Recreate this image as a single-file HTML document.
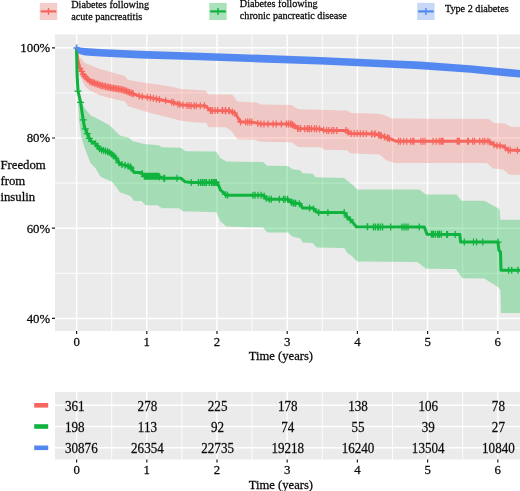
<!DOCTYPE html>
<html lang="en"><head><meta charset="utf-8"><title>Freedom from insulin</title>
<style>html,body{margin:0;padding:0;background:#fff}body{width:520px;height:491px;overflow:hidden}svg{display:block}</style>
</head><body>
<svg width="520" height="491" viewBox="0 0 520 491">
<rect width="520" height="491" fill="#fff"/>
<rect x="55" y="34.5" width="465" height="296.5" fill="#EBEBEB"/>
<path d="M55,92.9H520M55,183.1H520M55,273.3H520M111.7,34.5V331M181.9,34.5V331M252.1,34.5V331M322.3,34.5V331M392.5,34.5V331M462.7,34.5V331" stroke="#fff" stroke-width="0.95" fill="none" opacity="0.95"/>
<path d="M55,47.8H520M55,138.0H520M55,228.2H520M55,318.4H520M76.6,34.5V331M146.8,34.5V331M217.0,34.5V331M287.2,34.5V331M357.4,34.5V331M427.6,34.5V331M497.8,34.5V331" stroke="#fff" stroke-width="1.45" fill="none"/>
<path d="M76.6,48.0 L79.0,56.0 L85.0,63.0 L100.0,69.0 L125.0,76.0 L128.0,80.0 L150.4,83.4 L170.7,86.5 L180.9,88.9 L205.4,90.5 L208.4,94.2 L232.4,94.8 L237.5,101.6 L256.8,102.6 L260.9,104.6 L291.5,105.0 L298.1,109.3 L347.0,110.5 L351.1,113.0 L377.6,113.8 L382.2,114.5 L392.4,118.5 L488.9,118.9 L494.0,123.0 L505.2,123.6 L510.3,126.7 L520.0,127.1 L520.0,174.9 L509.2,174.5 L503.1,169.4 L493.0,168.4 L486.8,162.9 L394.4,162.9 L386.3,160.3 L379.6,154.5 L350.1,153.3 L347.0,150.3 L324.6,149.7 L320.5,147.2 L298.1,146.9 L291.5,142.3 L260.9,141.7 L254.8,139.7 L237.5,139.2 L231.4,131.1 L225.7,127.2 L208.4,127.2 L206.4,123.1 L191.1,122.1 L180.9,120.7 L170.7,118.0 L160.5,115.4 L150.4,113.0 L140.2,109.9 L128.0,106.0 L125.0,101.5 L110.0,98.0 L100.0,95.4 L90.0,90.5 L85.0,86.0 L80.0,76.0 L78.0,66.0 L76.6,48.0Z" fill="#F8766D" fill-opacity="0.3"/>
<path d="M76.6,48.0 L78.0,70.0 L79.5,90.0 L81.2,102.0 L85.3,109.0 L90.4,115.3 L96.5,118.3 L102.6,121.4 L109.7,125.5 L114.8,130.5 L119.9,135.6 L129.0,137.7 L132.2,141.0 L144.4,144.0 L158.7,145.3 L161.8,147.3 L181.1,147.7 L185.2,151.2 L216.3,151.5 L220.4,158.3 L226.5,161.4 L263.1,162.0 L267.2,165.7 L288.1,166.1 L292.2,169.2 L300.4,170.2 L302.4,173.2 L312.6,173.8 L315.6,177.3 L344.2,177.9 L348.2,181.4 L353.3,185.5 L357.0,189.6 L419.2,189.6 L426.0,194.5 L456.7,194.5 L461.3,200.8 L484.2,200.8 L499.5,209.0 L500.4,219.8 L520.0,219.8 L520.0,313.0 L501.0,313.0 L500.4,290.0 L498.0,287.0 L484.2,278.5 L462.4,278.3 L455.8,268.9 L426.2,268.7 L417.2,261.9 L357.1,261.5 L352.3,256.6 L347.2,252.7 L344.2,248.0 L316.7,247.6 L312.6,243.1 L302.4,242.5 L300.4,238.4 L292.2,236.6 L288.1,232.5 L267.2,232.5 L263.1,227.6 L226.5,226.6 L220.4,221.5 L216.3,212.3 L183.1,211.3 L179.0,208.2 L161.8,208.2 L157.7,205.2 L145.5,205.2 L141.4,201.0 L134.3,201.0 L130.2,196.0 L119.9,192.3 L115.8,186.6 L111.8,181.5 L106.7,179.4 L100.5,176.4 L95.5,168.2 L90.4,163.1 L87.3,155.0 L84.3,146.8 L81.2,136.7 L79.2,120.4 L77.3,90.0 L76.5,48.0Z" fill="#00BA38" fill-opacity="0.3"/>
<path d="M76.6,48.0 L77.4,58.0 L79.6,67.5 L83.8,75.4 L90.0,81.5 L100.8,85.4 L110.8,87.7 L123.8,90.0 L130.0,92.6 L140.2,96.3 L150.4,97.7 L160.5,99.7 L170.7,101.8 L180.9,104.8 L191.1,105.8 L205.4,105.8 L210.4,110.5 L230.4,110.7 L235.5,113.8 L240.5,121.9 L250.7,121.9 L260.9,124.0 L291.5,124.0 L298.1,128.6 L320.5,128.9 L324.6,130.5 L347.0,130.5 L349.0,133.4 L375.5,134.0 L380.2,135.4 L390.4,138.9 L396.5,141.3 L488.9,141.3 L495.0,145.4 L503.1,146.0 L508.2,150.1 L520.0,150.5" stroke="#F7665E" stroke-width="3" fill="none" stroke-linejoin="round"/>
<path d="M80.0,64.8v7M76.5,68.3h7M81.6,67.8v7M78.1,71.3h7M83.2,70.8v7M79.7,74.3h7M84.8,72.9v7M81.3,76.4h7M86.4,74.5v7M82.9,78.0h7M88.0,76.0v7M84.5,79.5h7M89.6,77.6v7M86.1,81.1h7M91.2,78.4v7M87.7,81.9h7M92.8,79.0v7M89.3,82.5h7M94.4,79.6v7M90.9,83.1h7M96.0,80.2v7M92.5,83.7h7M97.6,80.7v7M94.1,84.2h7M99.2,81.3v7M95.7,84.8h7M100.8,81.9v7M97.3,85.4h7M102.4,82.3v7M98.9,85.8h7M104.0,82.6v7M100.5,86.1h7M105.6,83.0v7M102.1,86.5h7M107.2,83.4v7M103.7,86.9h7M108.8,83.7v7M105.3,87.2h7M110.4,84.1v7M106.9,87.6h7M112.0,84.4v7M108.5,87.9h7M113.6,84.7v7M110.1,88.2h7M115.2,85.0v7M111.7,88.5h7M116.8,85.3v7M113.3,88.8h7M118.4,85.5v7M114.9,89.0h7M120.0,85.8v7M116.5,89.3h7M121.6,86.1v7M118.1,89.6h7M123.2,86.4v7M119.7,89.9h7M124.8,86.9v7M121.3,90.4h7M126.4,87.6v7M122.9,91.1h7M128.0,88.3v7M124.5,91.8h7M129.6,88.9v7M126.1,92.4h7M131.2,89.5v7M127.7,93.0h7M132.8,90.1v7M129.3,93.6h7M133.1,90.2v7M129.6,93.7h7M139.2,92.4v7M135.7,95.9h7M142.2,93.1v7M138.7,96.6h7M147.3,93.8v7M143.8,97.3h7M150.4,94.2v7M146.9,97.7h7M153.4,94.8v7M149.9,98.3h7M156.5,95.4v7M153.0,98.9h7M159.5,96.0v7M156.0,99.5h7M165.6,97.3v7M162.1,100.8h7M171.8,98.6v7M168.3,102.1h7M173.8,99.2v7M170.3,102.7h7M177.9,100.4v7M174.4,103.9h7M179.9,101.0v7M176.4,104.5h7M183.0,101.5v7M179.5,105.0h7M187.0,101.9v7M183.5,105.4h7M189.1,102.1v7M185.6,105.6h7M191.1,102.3v7M187.6,105.8h7M194.2,102.3v7M190.7,105.8h7M196.2,102.3v7M192.7,105.8h7M200.3,102.3v7M196.8,105.8h7M204.3,102.3v7M200.8,105.8h7M210.4,107.0v7M206.9,110.5h7M212.5,107.0v7M209.0,110.5h7M217.6,107.1v7M214.1,110.6h7M222.7,107.1v7M219.2,110.6h7M225.7,107.2v7M222.2,110.7h7M228.8,107.2v7M225.3,110.7h7M212.0,107.0v7M208.5,110.5h7M215.1,107.0v7M211.6,110.5h7M222.2,107.1v7M218.7,110.6h7M225.3,107.1v7M221.8,110.6h7M229.3,107.2v7M225.8,110.7h7M232.4,108.4v7M228.9,111.9h7M234.4,109.7v7M230.9,113.2h7M240.5,118.4v7M237.0,121.9h7M245.6,118.4v7M242.1,121.9h7M247.7,118.4v7M244.2,121.9h7M249.7,118.4v7M246.2,121.9h7M251.8,118.6v7M248.3,122.1h7M257.9,119.9v7M254.4,123.4h7M260.9,120.5v7M257.4,124.0h7M264.0,120.5v7M260.5,124.0h7M268.0,120.5v7M264.5,124.0h7M273.1,120.5v7M269.6,124.0h7M276.2,120.5v7M272.7,124.0h7M281.3,120.5v7M277.8,124.0h7M286.4,120.5v7M282.9,124.0h7M288.4,120.5v7M284.9,124.0h7M290.4,120.5v7M286.9,124.0h7M292.5,121.2v7M289.0,124.7h7M297.6,124.7v7M294.1,128.2h7M300.6,125.1v7M297.1,128.6h7M304.7,125.2v7M301.2,128.7h7M307.8,125.2v7M304.3,128.7h7M291.0,120.5v7M287.5,124.0h7M294.1,122.3v7M290.6,125.8h7M298.1,125.1v7M294.6,128.6h7M300.2,125.1v7M296.7,128.6h7M307.3,125.2v7M303.8,128.7h7M309.3,125.3v7M305.8,128.8h7M311.4,125.3v7M307.9,128.8h7M314.4,125.3v7M310.9,128.8h7M316.5,125.3v7M313.0,128.8h7M319.5,125.4v7M316.0,128.9h7M323.6,126.6v7M320.1,130.1h7M326.7,127.0v7M323.2,130.5h7M328.7,127.0v7M325.2,130.5h7M331.8,127.0v7M328.3,130.5h7M333.8,127.0v7M330.3,130.5h7M336.8,127.0v7M333.3,130.5h7M346.0,127.0v7M342.5,130.5h7M348.0,128.5v7M344.5,132.0h7M351.1,129.9v7M347.6,133.4h7M354.2,130.0v7M350.7,133.5h7M357.2,130.1v7M353.7,133.6h7M360.3,130.2v7M356.8,133.7h7M363.3,130.2v7M359.8,133.7h7M366.4,130.3v7M362.9,133.8h7M371.5,130.4v7M368.0,133.9h7M374.5,130.5v7M371.0,134.0h7M378.6,131.4v7M375.1,134.9h7M380.6,132.0v7M377.1,135.5h7M384.7,133.4v7M381.2,136.9h7M387.8,134.5v7M384.3,138.0h7M372.0,130.4v7M368.5,133.9h7M375.1,130.5v7M371.6,134.0h7M379.2,131.6v7M375.7,135.1h7M381.2,132.2v7M377.7,135.7h7M384.3,133.3v7M380.8,136.8h7M387.3,134.3v7M383.8,137.8h7M389.3,135.0v7M385.8,138.5h7M398.5,137.8v7M395.0,141.3h7M400.5,137.8v7M397.0,141.3h7M403.6,137.8v7M400.1,141.3h7M406.7,137.8v7M403.2,141.3h7M410.7,137.8v7M407.2,141.3h7M412.8,137.8v7M409.3,141.3h7M413.8,137.8v7M410.3,141.3h7M420.9,137.8v7M417.4,141.3h7M423.0,137.8v7M419.5,141.3h7M425.0,137.8v7M421.5,141.3h7M433.1,137.8v7M429.6,141.3h7M436.2,137.8v7M432.7,141.3h7M439.2,137.8v7M435.7,141.3h7M442.3,137.8v7M438.8,141.3h7M457.6,137.8v7M454.1,141.3h7M458.6,137.8v7M455.1,141.3h7M467.8,137.8v7M464.3,141.3h7M441.0,137.8v7M437.5,141.3h7M443.1,137.8v7M439.6,141.3h7M457.3,137.8v7M453.8,141.3h7M459.3,137.8v7M455.8,141.3h7M468.5,137.8v7M465.0,141.3h7M472.6,137.8v7M469.1,141.3h7M474.6,137.8v7M471.1,141.3h7M479.7,137.8v7M476.2,141.3h7M482.8,137.8v7M479.3,141.3h7M484.8,137.8v7M481.3,141.3h7M487.9,137.8v7M484.4,141.3h7M489.9,138.5v7M486.4,142.0h7M494.0,141.2v7M490.5,144.7h7M497.0,142.1v7M493.5,145.6h7M500.1,142.3v7M496.6,145.8h7M505.2,144.2v7M501.7,147.7h7M508.2,146.6v7M504.7,150.1h7M510.3,146.7v7M506.8,150.2h7M517.4,146.9v7M513.9,150.4h7" stroke="#F7665E" stroke-width="1.25" fill="none"/>
<path d="M76.5,48.0 L77.1,75.0 L78.0,91.0 L80.6,102.0 L82.6,116.0 L84.3,126.5 L87.3,133.6 L90.4,140.7 L95.5,143.8 L100.5,149.9 L105.6,150.9 L110.7,153.0 L115.8,158.0 L119.9,164.2 L125.0,165.2 L130.2,166.8 L134.3,172.5 L141.4,172.6 L144.4,176.3 L158.7,176.3 L161.8,178.3 L181.1,178.3 L185.2,181.8 L191.3,182.4 L217.3,182.4 L220.4,189.9 L226.5,195.3 L263.1,195.3 L267.2,199.3 L288.1,199.3 L292.2,202.8 L300.4,203.8 L302.4,207.9 L312.5,207.9 L317.7,212.5 L344.2,212.5 L347.2,217.0 L351.3,220.6 L356.3,226.8 L424.3,227.0 L427.0,234.3 L459.8,234.4 L460.6,242.1 L498.0,242.1 L498.9,250.3 L500.5,252.0 L501.0,270.2 L520.0,270.2" stroke="#0FB33D" stroke-width="3" fill="none" stroke-linejoin="round"/>
<path d="M83.2,116.4v7M79.7,119.9h7M85.3,125.3v7M81.8,128.8h7M87.3,130.1v7M83.8,133.6h7M89.3,134.8v7M85.8,138.3h7M91.4,137.8v7M87.9,141.3h7M95.5,140.3v7M92.0,143.8h7M97.5,142.7v7M94.0,146.2h7M99.5,145.2v7M96.0,148.7h7M101.6,146.6v7M98.1,150.1h7M103.6,147.0v7M100.1,150.5h7M105.6,147.4v7M102.1,150.9h7M107.7,148.3v7M104.2,151.8h7M109.7,149.1v7M106.2,152.6h7M111.8,150.5v7M108.3,154.0h7M113.8,152.5v7M110.3,156.0h7M115.8,154.5v7M112.3,158.0h7M118.9,159.2v7M115.4,162.7h7M121.9,161.1v7M118.4,164.6h7M125.0,161.7v7M121.5,165.2h7M128.0,162.6v7M124.5,166.1h7M131.1,164.6v7M127.6,168.1h7M142.3,170.2v7M138.8,173.7h7M145.4,172.8v7M141.9,176.3h7M147.4,172.8v7M143.9,176.3h7M149.4,172.8v7M145.9,176.3h7M151.5,172.8v7M148.0,176.3h7M153.5,172.8v7M150.0,176.3h7M155.5,172.8v7M152.0,176.3h7M157.6,172.8v7M154.1,176.3h7M159.6,173.4v7M156.1,176.9h7M164.7,174.8v7M161.2,178.3h7M122.0,161.1v7M118.5,164.6h7M125.1,161.7v7M121.6,165.2h7M128.1,162.7v7M124.6,166.2h7M130.2,163.3v7M126.7,166.8h7M142.4,170.3v7M138.9,173.8h7M144.4,172.8v7M140.9,176.3h7M146.5,172.8v7M143.0,176.3h7M148.5,172.8v7M145.0,176.3h7M150.5,172.8v7M147.0,176.3h7M152.6,172.8v7M149.1,176.3h7M154.6,172.8v7M151.1,176.3h7M156.7,172.8v7M153.2,176.3h7M158.7,172.8v7M155.2,176.3h7M163.8,174.8v7M160.3,178.3h7M177.0,174.8v7M173.5,178.3h7M191.3,178.9v7M187.8,182.4h7M198.4,178.9v7M194.9,182.4h7M200.4,178.9v7M196.9,182.4h7M202.5,178.9v7M199.0,182.4h7M204.5,178.9v7M201.0,182.4h7M206.6,178.9v7M203.1,182.4h7M209.6,178.9v7M206.1,182.4h7M211.6,178.9v7M208.1,182.4h7M213.7,178.9v7M210.2,182.4h7M215.7,178.9v7M212.2,182.4h7M202.0,178.9v7M198.5,182.4h7M204.1,178.9v7M200.6,182.4h7M206.1,178.9v7M202.6,182.4h7M209.2,178.9v7M205.7,182.4h7M212.2,178.9v7M208.7,182.4h7M214.3,178.9v7M210.8,182.4h7M216.3,178.9v7M212.8,182.4h7M225.5,190.9v7M222.0,194.4h7M227.5,191.8v7M224.0,195.3h7M253.0,191.8v7M249.5,195.3h7M255.0,191.8v7M251.5,195.3h7M258.0,191.8v7M254.5,195.3h7M261.1,191.8v7M257.6,195.3h7M264.2,192.8v7M260.7,196.3h7M266.2,194.8v7M262.7,198.3h7M269.2,195.8v7M265.7,199.3h7M271.3,195.8v7M267.8,199.3h7M279.4,195.8v7M275.9,199.3h7M283.5,195.8v7M280.0,199.3h7M287.6,195.8v7M284.1,199.3h7M291.6,198.8v7M288.1,202.3h7M293.7,199.5v7M290.2,203.0h7M295.7,199.7v7M292.2,203.2h7M285.1,195.8v7M281.6,199.3h7M291.2,198.4v7M287.7,201.9h7M293.2,199.4v7M289.7,202.9h7M295.3,199.7v7M291.8,203.2h7M299.3,200.2v7M295.8,203.7h7M309.5,204.4v7M306.0,207.9h7M313.6,205.4v7M310.1,208.9h7M318.7,209.0v7M315.2,212.5h7M327.9,209.0v7M324.4,212.5h7M344.2,209.0v7M340.7,212.5h7M347.2,213.5v7M343.7,217.0h7M350.3,216.2v7M346.8,219.7h7M367.6,223.3v7M364.1,226.8h7M373.7,223.4v7M370.2,226.9h7M377.8,223.4v7M374.3,226.9h7M367.3,223.3v7M363.8,226.8h7M373.4,223.4v7M369.9,226.9h7M375.5,223.4v7M372.0,226.9h7M378.5,223.4v7M375.0,226.9h7M380.5,223.4v7M377.0,226.9h7M382.6,223.4v7M379.1,226.9h7M390.7,223.4v7M387.2,226.9h7M401.9,223.4v7M398.4,226.9h7M404.0,223.4v7M400.5,226.9h7M406.0,223.4v7M402.5,226.9h7M408.0,223.5v7M404.5,227.0h7M419.2,223.5v7M415.7,227.0h7M431.5,230.8v7M428.0,234.3h7M433.5,230.8v7M430.0,234.3h7M435.5,230.8v7M432.0,234.3h7M437.6,230.8v7M434.1,234.3h7M439.6,230.8v7M436.1,234.3h7M446.7,230.9v7M443.2,234.4h7M432.2,230.8v7M428.7,234.3h7M435.3,230.8v7M431.8,234.3h7M438.3,230.8v7M434.8,234.3h7M441.4,230.8v7M437.9,234.3h7M447.5,230.9v7M444.0,234.4h7M455.2,230.9v7M451.7,234.4h7M464.3,238.6v7M460.8,242.1h7M473.5,238.6v7M470.0,242.1h7M476.6,238.6v7M473.1,242.1h7M482.7,238.6v7M479.2,242.1h7M498.0,238.6v7M494.5,242.1h7M508.7,266.7v7M505.2,270.2h7M511.7,266.7v7M508.2,270.2h7M517.9,266.7v7M514.4,270.2h7M74.5,91.0h7M77.1,102.3h7" stroke="#0FB33D" stroke-width="1.25" fill="none"/>
<path d="M76.5,46.6 L78.0,47.0 L80.0,47.4 L85.0,48.0 L100.0,49.0 L140.0,50.8 L200.0,52.7 L260.0,54.8 L320.0,57.0 L380.0,59.7 L420.0,61.6 L470.0,65.2 L520.0,70.0 L520.0,77.6 L470.0,72.8 L420.0,69.2 L380.0,67.3 L320.0,64.6 L260.0,62.4 L200.0,60.3 L140.0,58.4 L100.0,56.6 L85.0,55.5 L80.0,54.2 L77.5,52.6 L76.5,49.6Z" fill="#5488F1"/>
<path d="M73.3,48h6.5M76.6,44.4v4" stroke="#5488F1" stroke-width="1.7" fill="none"/>
<path d="M55,47.8h-3M55,138.0h-3M55,228.2h-3M55,318.4h-3M76.6,331v3.1M146.8,331v3.1M217.0,331v3.1M287.2,331v3.1M357.4,331v3.1M427.6,331v3.1M497.8,331v3.1" stroke="#1a1a1a" stroke-width="1.2" fill="none"/>
<g font-family="Liberation Serif, serif" fill="#0a0a0a" stroke="#0a0a0a" stroke-width="0.26">
<text x="50.2" y="52.1" font-size="12.8" text-anchor="end">100%</text>
<text x="50.2" y="142.3" font-size="12.8" text-anchor="end">80%</text>
<text x="50.2" y="232.5" font-size="12.8" text-anchor="end">60%</text>
<text x="50.2" y="322.7" font-size="12.8" text-anchor="end">40%</text>
<text x="76.6" y="345.6" font-size="12.8" text-anchor="middle">0</text>
<text x="146.8" y="345.6" font-size="12.8" text-anchor="middle">1</text>
<text x="217.0" y="345.6" font-size="12.8" text-anchor="middle">2</text>
<text x="287.2" y="345.6" font-size="12.8" text-anchor="middle">3</text>
<text x="357.4" y="345.6" font-size="12.8" text-anchor="middle">4</text>
<text x="427.6" y="345.6" font-size="12.8" text-anchor="middle">5</text>
<text x="497.8" y="345.6" font-size="12.8" text-anchor="middle">6</text>
<text x="280.9" y="359.6" font-size="12.6" text-anchor="middle">Time (years)</text>
<text x="0.4" y="169.4" font-size="12.75">Freedom</text>
<text x="0.4" y="185.4" font-size="12.75">from</text>
<text x="0.4" y="201.4" font-size="12.75">insulin</text>
<rect x="39.8" y="2.9" width="17.4" height="17.1" fill="#F2F2F2" stroke="none"/>
<rect x="39.8" y="2.9" width="17.4" height="17.1" fill="#F8766D" fill-opacity="0.3" stroke="none"/>
<path d="M40.7,11.4h15.6" stroke="#F7665E" stroke-width="2.2" fill="none"/>
<path d="M48.5,7.9v7" stroke="#F7665E" stroke-width="1.4" fill="none"/>
<text x="71.2" y="7.9" font-size="10.2">Diabetes following</text>
<text x="71.2" y="19.95" font-size="10.2">acute pancreatitis</text>
<rect x="209.3" y="2.9" width="17.4" height="17.1" fill="#F2F2F2" stroke="none"/>
<rect x="209.3" y="2.9" width="17.4" height="17.1" fill="#00BA38" fill-opacity="0.3" stroke="none"/>
<path d="M210.2,11.4h15.6" stroke="#0FB33D" stroke-width="2.2" fill="none"/>
<path d="M218,7.9v7" stroke="#0FB33D" stroke-width="1.4" fill="none"/>
<text x="239.8" y="6.8" font-size="10.2">Diabetes following</text>
<text x="239.8" y="18.8" font-size="10.2">chronic pancreatic disease</text>
<rect x="417.2" y="2.9" width="17.4" height="17.1" fill="#F2F2F2" stroke="none"/>
<rect x="417.2" y="2.9" width="17.4" height="17.1" fill="#619CFF" fill-opacity="0.3" stroke="none"/>
<path d="M418.1,11.4h15.6" stroke="#5488F1" stroke-width="2.2" fill="none"/>
<path d="M425.9,7.9v7" stroke="#5488F1" stroke-width="1.4" fill="none"/>
<text x="444.9" y="12.4" font-size="10.2">Type 2 diabetes</text>
</g>
<rect x="55" y="392" width="465" height="67.5" fill="#EBEBEB"/>
<path d="M111.7,392V459.5M181.9,392V459.5M252.1,392V459.5M322.3,392V459.5M392.5,392V459.5M462.7,392V459.5" stroke="#fff" stroke-width="0.95" fill="none" opacity="0.95"/>
<path d="M55,405.3H520M55,426.5H520M55,447.8H520M76.6,392V459.5M146.8,392V459.5M217.0,392V459.5M287.2,392V459.5M357.4,392V459.5M427.6,392V459.5M497.8,392V459.5" stroke="#fff" stroke-width="1.45" fill="none"/>
<rect x="34.2" y="403.0" width="14" height="4.6" fill="#F7665E"/>
<rect x="34.2" y="424.2" width="14" height="4.6" fill="#0FB33D"/>
<rect x="34.2" y="445.5" width="14" height="4.6" fill="#5488F1"/>
<path d="M76.6,459.5v3.1M146.8,459.5v3.1M217.0,459.5v3.1M287.2,459.5v3.1M357.4,459.5v3.1M427.6,459.5v3.1M497.8,459.5v3.1" stroke="#1a1a1a" stroke-width="1.2" fill="none"/>
<g font-family="Liberation Serif, serif" fill="#0a0a0a" stroke="#0a0a0a" stroke-width="0.26">
<text transform="translate(65,410.5) scale(0.85,1)" font-size="15.4">361</text>
<text transform="translate(147.4,410.5) scale(0.85,1)" font-size="15.4" text-anchor="middle">278</text>
<text transform="translate(217.6,410.5) scale(0.85,1)" font-size="15.4" text-anchor="middle">225</text>
<text transform="translate(287.8,410.5) scale(0.85,1)" font-size="15.4" text-anchor="middle">178</text>
<text transform="translate(358.0,410.5) scale(0.85,1)" font-size="15.4" text-anchor="middle">138</text>
<text transform="translate(428.2,410.5) scale(0.85,1)" font-size="15.4" text-anchor="middle">106</text>
<text transform="translate(498.4,410.5) scale(0.85,1)" font-size="15.4" text-anchor="middle">78</text>
<text transform="translate(65,431.7) scale(0.85,1)" font-size="15.4">198</text>
<text transform="translate(147.4,431.7) scale(0.85,1)" font-size="15.4" text-anchor="middle">113</text>
<text transform="translate(217.6,431.7) scale(0.85,1)" font-size="15.4" text-anchor="middle">92</text>
<text transform="translate(287.8,431.7) scale(0.85,1)" font-size="15.4" text-anchor="middle">74</text>
<text transform="translate(358.0,431.7) scale(0.85,1)" font-size="15.4" text-anchor="middle">55</text>
<text transform="translate(428.2,431.7) scale(0.85,1)" font-size="15.4" text-anchor="middle">39</text>
<text transform="translate(498.4,431.7) scale(0.85,1)" font-size="15.4" text-anchor="middle">27</text>
<text transform="translate(65,453.0) scale(0.85,1)" font-size="15.4">30876</text>
<text transform="translate(147.4,453.0) scale(0.85,1)" font-size="15.4" text-anchor="middle">26354</text>
<text transform="translate(217.6,453.0) scale(0.85,1)" font-size="15.4" text-anchor="middle">22735</text>
<text transform="translate(287.8,453.0) scale(0.85,1)" font-size="15.4" text-anchor="middle">19218</text>
<text transform="translate(358.0,453.0) scale(0.85,1)" font-size="15.4" text-anchor="middle">16240</text>
<text transform="translate(428.2,453.0) scale(0.85,1)" font-size="15.4" text-anchor="middle">13504</text>
<text transform="translate(498.4,453.0) scale(0.85,1)" font-size="15.4" text-anchor="middle">10840</text>
<text x="76.6" y="473.8" font-size="12.8" text-anchor="middle">0</text>
<text x="146.8" y="473.8" font-size="12.8" text-anchor="middle">1</text>
<text x="217.0" y="473.8" font-size="12.8" text-anchor="middle">2</text>
<text x="287.2" y="473.8" font-size="12.8" text-anchor="middle">3</text>
<text x="357.4" y="473.8" font-size="12.8" text-anchor="middle">4</text>
<text x="427.6" y="473.8" font-size="12.8" text-anchor="middle">5</text>
<text x="497.8" y="473.8" font-size="12.8" text-anchor="middle">6</text>
<text x="280.9" y="488.8" font-size="12.6" text-anchor="middle">Time (years)</text>
</g>
</svg>
</body></html>
